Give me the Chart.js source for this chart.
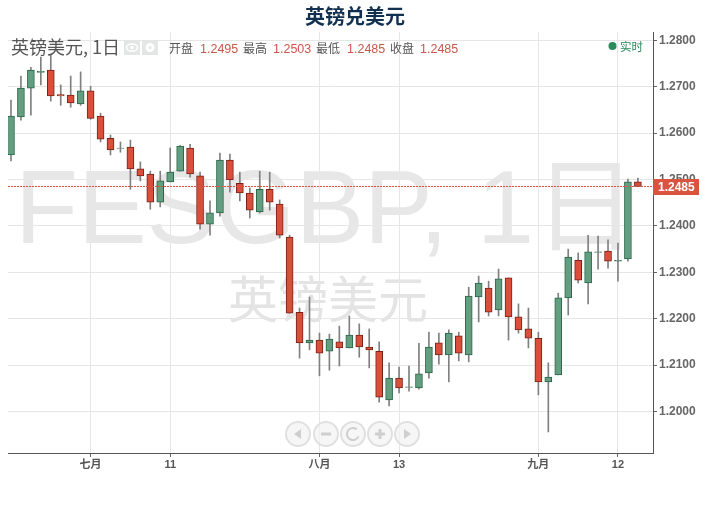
<!DOCTYPE html>
<html lang="zh">
<head>
<meta charset="utf-8">
<title>英镑兑美元</title>
<style>html,body{margin:0;padding:0;background:#fff}canvas{display:block}</style>
<script src="https://cdn.jsdelivr.net/npm/chart.js@4/dist/chart.umd.min.js"></script>
</head>
<body>
<canvas id="c" width="702" height="518"></canvas>
<script>
const opens  = [1.2553,1.2635,1.2697,1.2731,1.2736,1.2683,1.2682,1.2663,1.2691,1.2637,1.2589,1.2567,1.2570,1.2523,1.2512,1.2451,
                1.2495,1.2518,1.2568,1.2508,1.2404,1.2428,1.2542,1.2492,1.2471,1.2430,1.2479,1.2447,1.2376,1.2214,1.2148,1.2154,
                1.2130,1.2150,1.2137,1.2165,1.2139,1.2130,1.2025,1.2072,1.2052,1.2051,1.2083,1.2148,1.2122,1.2163,1.2122,1.2247,
                1.2266,1.2219,1.2288,1.2204,1.2178,1.2158,1.2064,1.2079,1.2245,1.2326,1.2277,1.2343,1.2346,1.2324,1.2329,1.2495];
const highs  = [1.2671,1.2723,1.2742,1.2764,1.2768,1.2704,1.2723,1.2732,1.2701,1.2643,1.2596,1.2581,1.2585,1.2538,1.2518,1.2518,
                1.2568,1.2574,1.2576,1.2516,1.2454,1.2557,1.2555,1.2516,1.2482,1.2518,1.2516,1.2456,1.2380,1.2223,1.2247,1.2169,
                1.2167,1.2184,1.2206,1.2189,1.2178,1.2150,1.2105,1.2096,1.2098,1.2147,1.2171,1.2169,1.2176,1.2171,1.2268,1.2292,
                1.2281,1.2307,1.2288,1.2232,1.2223,1.2171,1.2105,1.2255,1.2350,1.2342,1.2380,1.2378,1.2370,1.2363,1.2501,1.2503];
const lows   = [1.2540,1.2628,1.2639,1.2704,1.2669,1.2660,1.2656,1.2660,1.2630,1.2581,1.2553,1.2559,1.2479,1.2497,1.2436,1.2441,
                1.2495,1.2518,1.2505,1.2393,1.2380,1.2421,1.2473,1.2454,1.2417,1.2428,1.2434,1.2374,1.2212,1.2115,1.2133,1.2077,
                1.2089,1.2098,1.2137,1.2117,1.2094,1.2020,1.2012,1.2040,1.2044,1.2048,1.2072,1.2102,1.2064,1.2109,1.2107,1.2193,
                1.2206,1.2206,1.2154,1.2169,1.2137,1.2036,1.1956,1.2079,1.2208,1.2277,1.2232,1.2307,1.2309,1.2281,1.2324,1.2485];
const closes = [1.2637,1.2697,1.2736,1.2733,1.2680,1.2680,1.2665,1.2691,1.2632,1.2587,1.2564,1.2568,1.2523,1.2508,1.2451,1.2497,
                1.2516,1.2572,1.2512,1.2404,1.2428,1.2542,1.2499,1.2471,1.2434,1.2479,1.2451,1.2380,1.2212,1.2148,1.2154,1.2126,
                1.2156,1.2137,1.2165,1.2139,1.2133,1.2031,1.2072,1.2051,1.2053,1.2081,1.2139,1.2122,1.2169,1.2126,1.2249,1.2277,
                1.2214,1.2286,1.2204,1.2176,1.2158,1.2064,1.2074,1.2245,1.2333,1.2283,1.2344,1.2344,1.2324,1.2326,1.2495,1.2485];
const xTickIndex  = [8,16,31,39,53,61];
const xTickLabels = ['七月','11','八月','13','九月','12'];
const yTickValues = [1.20,1.21,1.22,1.23,1.24,1.25,1.26,1.27,1.28];
const titleText = '英镑兑美元';
const symbolText = '英镑美元, 1日';
const watermarkMain = 'FESGBP, 1日';
const watermarkSub = '英镑美元';
const ohlcNames = ['开盘','最高','最低','收盘'];
const ohlcValues = ['1.2495','1.2503','1.2485','1.2485'];
const lastPrice = 1.2485;

const idx = opens.map((_, i) => i);
const up = i => closes[i] >= opens[i];
const SANS = '"Liberation Sans","Noto Sans CJK SC",sans-serif';
const CJK  = '"Noto Sans CJK SC","Liberation Sans",sans-serif';

const overlay = {
  id: 'overlay',
  afterLayout(c) { c.titleBlock.left = 0; c.titleBlock.right = 710; },
  beforeDatasetsDraw(c) {
    const g = c.ctx;
    g.save();
    g.fillStyle = '#e7e7e7';
    g.textBaseline = 'alphabetic';
    g.font = '103px ' + SANS;
    g.textAlign = 'center';
    g.fillText(watermarkMain, 326, 243);
    g.font = '50px ' + CJK;
    g.fillStyle = '#e4e4e4';
    g.fillText(watermarkSub, 328, 318);
    g.restore();
  },
  afterDatasetsDraw(c) {
    const g = c.ctx;
    g.save();
    g.textBaseline = 'alphabetic';
    g.textAlign = 'left';
    g.fillStyle = '#555';
    g.font = '18px ' + CJK;
    g.fillText(symbolText, 11, 54);

    [124, 142].forEach((x, k) => {
      g.fillStyle = '#e4e6e6';
      g.fillRect(x, 40, 16, 15);
      g.strokeStyle = '#fff';
      g.fillStyle = '#fff';
      g.lineWidth = 1.5;
      g.beginPath();
      if (k === 0) { g.ellipse(x + 8, 47.5, 5.5, 3.6, 0, 0, 7); g.stroke(); g.beginPath(); g.arc(x + 8, 47.5, 1.8, 0, 7); g.fill(); }
      else { g.arc(x + 8, 47.5, 3, 0, 7); g.lineWidth = 3; g.stroke(); }
    });

    const xName = [169, 243, 316, 390], xVal = [200, 273, 347, 420];
    ohlcNames.forEach((n, i) => {
      g.font = '12px ' + CJK;
      g.fillStyle = '#555';
      g.fillText(n, xName[i], 53);
      g.font = '12.5px ' + SANS;
      g.fillStyle = '#c9564a';
      g.fillText(ohlcValues[i], xVal[i], 53);
    });

    g.fillStyle = '#2a8a5c';
    g.beginPath(); g.arc(612.5, 46, 4, 0, 7); g.fill();
    g.font = '11.5px ' + CJK;
    g.fillText('实时', 620, 50.5);

    const py = c.scales.y.getPixelForValue(lastPrice);
    g.fillStyle = '#d9533f';
    g.fillRect(653, py - 7.5, 46, 16);
    g.fillStyle = '#fff';
    g.font = 'bold 12px ' + SANS;
    g.fillText(lastPrice.toFixed(4), 658, py + 4.5);

    const cx = [298, 326, 353, 380, 407], cy = 434;
    cx.forEach((x, k) => {
      g.beginPath(); g.arc(x, cy, 12, 0, 7);
      g.fillStyle = 'rgba(242,242,242,0.7)'; g.fill();
      g.lineWidth = 2; g.strokeStyle = '#e0e0e0'; g.stroke();
      g.fillStyle = '#cfcfcf'; g.strokeStyle = '#cfcfcf'; g.lineWidth = 3;
      g.beginPath();
      if (k === 0) { g.moveTo(x + 3, cy - 5); g.lineTo(x + 3, cy + 5); g.lineTo(x - 4, cy); g.closePath(); g.fill(); }
      if (k === 4) { g.moveTo(x - 3, cy - 5); g.lineTo(x - 3, cy + 5); g.lineTo(x + 4, cy); g.closePath(); g.fill(); }
      if (k === 1 || k === 3) { g.moveTo(x - 5, cy); g.lineTo(x + 5, cy); }
      if (k === 3) { g.moveTo(x, cy - 5); g.lineTo(x, cy + 5); }
      if (k === 2) { g.lineWidth = 2; g.arc(x, cy, 6, 0.4, 5.4); }
      if (k > 0 && k < 4) g.stroke();
    });
    g.restore();
  }
};

new Chart(document.getElementById('c'), {
  type: 'bar',
  plugins: [overlay],
  data: {
    datasets: [
      {
        type: 'line', label: '现价', order: 0,
        data: [{x: -0.3, y: lastPrice}, {x: 64.52, y: lastPrice}],
        borderColor: '#d9533f', borderWidth: 1, borderDash: [2, 1], pointRadius: 0
      },
      {
        label: '实体', order: 1, grouped: false,
        data: idx.map(i => ({x: i, y: [opens[i], closes[i]]})),
        backgroundColor: idx.map(i => up(i) ? '#629e7f' : '#d8503c'),
        borderColor: idx.map(i => up(i) ? '#2a6648' : '#7a2015'),
        borderWidth: 1, borderSkipped: false, barThickness: 7
      },
      {
        label: '影线', order: 2, grouped: false,
        data: idx.map(i => ({x: i, y: [lows[i], highs[i]]})),
        backgroundColor: '#808080', borderWidth: 0, barThickness: 1
      }
    ]
  },
  options: {
    responsive: false,
    animation: false,
    devicePixelRatio: 1,
    layout: {padding: {left: 8, right: 0, top: 0, bottom: 0}},
    plugins: {
      legend: {display: false},
      tooltip: {enabled: false},
      title: {
        display: true, text: titleText, color: '#12304f',
        font: {family: CJK, size: 20, weight: 'bold'},
        padding: {top: 4, bottom: 4}
      }
    },
    scales: {
      x: {
        type: 'linear', min: -0.3, max: 64.52, offset: false,
        afterFit(s) { s.height = 65; },
        afterBuildTicks(s) { s.ticks = xTickIndex.map(v => ({value: v})); },
        grid: {color: '#e6e6e6', tickColor: '#666', tickLength: 4, offset: false},
        border: {color: '#555', width: 1},
        ticks: {
          autoSkip: false, maxRotation: 0, padding: 1, color: '#555',
          font: {family: SANS, size: 11, weight: 'bold'},
          callback: v => xTickLabels[xTickIndex.indexOf(v)]
        }
      },
      y: {
        type: 'linear', position: 'right', min: 1.19106, max: 1.2818,
        afterFit(s) { s.width = 49; },
        afterBuildTicks(s) { s.ticks = yTickValues.map(v => ({value: v})); },
        grid: {color: '#e6e6e6', tickColor: '#666', tickLength: 4},
        border: {color: '#555', width: 1},
        ticks: {
          padding: 2, color: '#666',
          font: {family: SANS, size: 12, weight: 'bold'},
          callback: v => Number(v).toFixed(4)
        }
      }
    }
  }
});
</script>
</body>
</html>
